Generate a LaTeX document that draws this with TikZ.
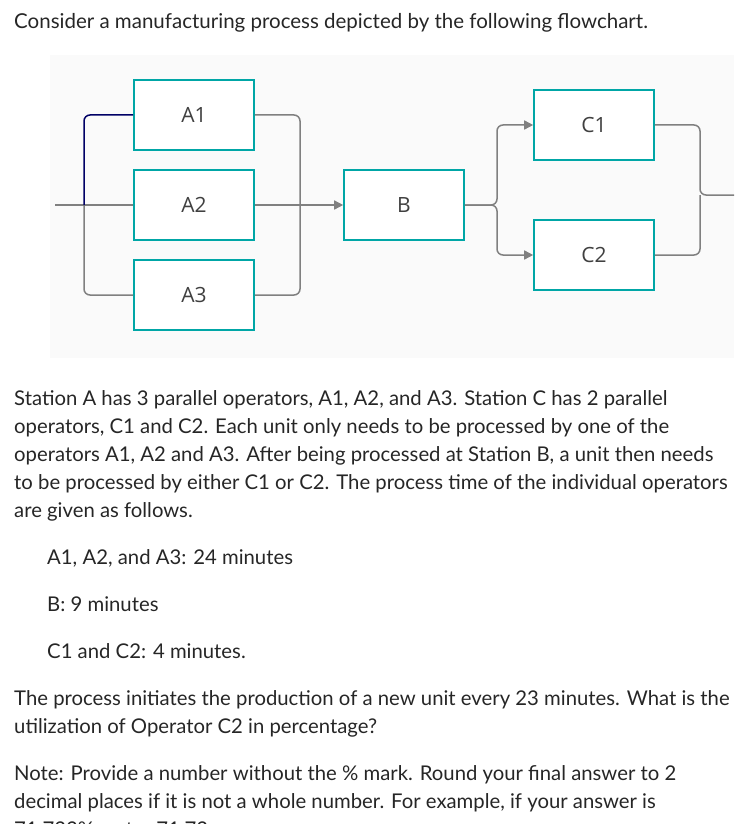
\documentclass[tikz,border=0pt]{standalone}
\usepackage{fontspec}
\usetikzlibrary{arrows.meta}
\setmainfont{Lato}
\newfontfamily\boxfont{Open Sans}
\begin{document}
\begin{tikzpicture}[x=1pt,y=-1pt,
  box/.style={draw=teal!70!cyan,line width=1.6pt,fill=white,minimum width=120pt,minimum height=70pt,inner sep=0,font=\boxfont\fontsize{21}{24}\selectfont,text=black!75},
  wire/.style={draw=black!50,line width=1.5pt,rounded corners=6pt},
  arr/.style={-{Triangle[length=9pt,width=9pt]}},
  txt/.style={anchor=base west,inner sep=0,font=\fontsize{20.3}{24}\selectfont,text=black!85}]
\useasboundingbox (0,0) rectangle (734,824);
\clip (0,0) rectangle (734,824);
\fill[black!2] (50,55) rectangle (734,358);
\node[box] (a1) at (194,115) {A1};
\node[box] (a2) at (194,205) {A2};
\node[box] (a3) at (194,295) {A3};
\node[box] (b) at (404,205) {B};
\node[box] (c1) at (594,125) {C1};
\node[box] (c2) at (594,255) {C2};
\coordinate (in) at (55,205);
\coordinate (out) at (734,195);
\draw[wire] (in) -- (a2.west);
\draw[wire] (84,205) |- (a3.west);
\draw[draw=blue!40!black,line width=1.5pt,rounded corners=6pt] (84,205) |- (a1.west);
\draw[wire] (a1.east) -| (300,205);
\draw[wire] (a3.east) -| (300,205);
\draw[wire,arr] (a2.east) -- (b.west);
\draw[wire,arr] (b.east) -| (497,160) |- (c1.west);
\draw[wire,arr] (b.east) -| (497,240) |- (c2.west);
\draw[wire] (c1.east) -| (700,195) -- (out);
\draw[wire] (c2.east) -| (700,195);
\node[txt] at (14,29) {\fontsize{20.5}{24}\selectfont Consider a manufacturing process depicted by the following flowchart.};
\node[txt] at (14,405) {Station A has 3 parallel operators, A1, A2, and A3. Station C has 2 parallel};
\node[txt] at (14,433) {operators, C1 and C2. Each unit only needs to be processed by one of the};
\node[txt] at (14,461) {operators A1, A2 and A3. After being processed at Station B, a unit then needs};
\node[txt] at (14,489) {to be processed by either C1 or C2. The process time of the individual operators};
\node[txt] at (14,517) {are given as follows.};
\node[txt] at (47,564) {A1, A2, and A3: 24 minutes};
\node[txt] at (47,611) {B: 9 minutes};
\node[txt] at (47,658) {C1 and C2: 4 minutes.};
\node[txt] at (14,705) {The process initiates the production of a new unit every 23 minutes. What is the};
\node[txt] at (14,733) {utilization of Operator C2 in percentage?};
\node[txt] at (14,780) {Note: Provide a number without the \% mark. Round your final answer to 2};
\node[txt] at (14,808) {decimal places if it is not a whole number. For example, if your answer is};
\node[txt] at (14,836) {71.723\%, enter 71.72.};
\end{tikzpicture}
\end{document}
